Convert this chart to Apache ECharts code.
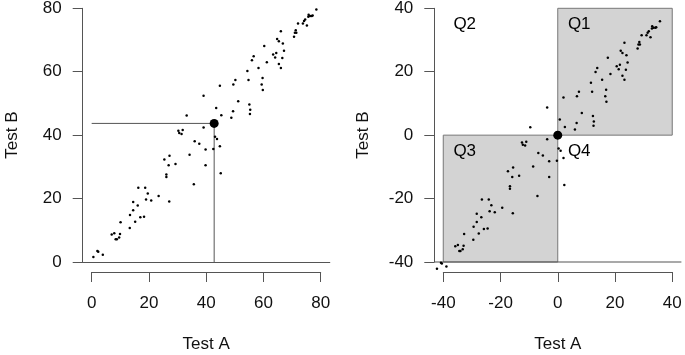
<!DOCTYPE html>
<html>
<head>
<meta charset="utf-8">
<script src="https://cdn.jsdelivr.net/npm/echarts@6/dist/echarts.min.js"></script>
<style>
  html, body { margin: 0; background: #fff; }
  #chart { width: 685px; height: 355px; }
</style>
</head>
<body>
<div id="chart"></div>
<script>
// scores
const testA = [0.6, 2.0, 2.3, 3.9, 7.0, 7.9, 9.9, 8.4, 8.8, 9.6,
  13.3, 10.1, 15.2, 17.0, 18.3, 13.4, 14.5, 16.1, 14.5, 19.0,
  20.8, 27.1, 23.4, 19.6, 16.3, 18.7, 35.7, 26.1, 26.1, 45.1,
  29.3, 26.9, 39.8, 25.4, 27.2, 34.2, 39.8, 42.5, 44.8, 37.6,
  36.0, 43.8, 43.1, 30.3, 31.8, 30.6, 31.4, 39.1, 33.2, 39.1,
  43.5, 45.3, 48.8, 49.4, 51.2, 55.1, 55.4, 55.3, 44.8, 49.5,
  59.4, 59.8, 50.2, 54.8, 59.7, 54.4, 58.3, 65.4, 66.1, 61.2,
  56.0, 56.6, 64.1, 66.6, 63.4, 64.5, 67.2, 60.3, 66.8, 65.4,
  64.8, 70.7, 71.0, 71.5, 66.1, 71.3, 75.2, 72.1, 73.8, 74.2,
  74.6, 75.7, 76.3, 76.9, 77.2, 75.8, 78.5]
const testB = [1.6, 3.5, 3.2, 2.3, 8.7, 9.1, 8.8, 7.2, 7.2, 7.7,
  10.7, 12.5, 12.7, 14.1, 14.3, 14.8, 16.3, 17.8, 18.9, 19.7,
  19.4, 19.1, 20.8, 21.6, 23.4, 23.4, 24.5, 26.8, 27.6, 28.0,
  30.9, 30.5, 30.5, 32.3, 33.5, 33.8, 35.5, 35.6, 36.5, 37.3,
  38.1, 38.8, 39.5, 41.4, 41.6, 40.7, 40.4, 42.4, 46.2, 52.4,
  48.6, 46.3, 45.5, 47.5, 50.7, 49.7, 48.0, 46.7, 55.6, 56.0,
  56.0, 54.2, 57.4, 57.4, 58.0, 60.2, 61.2, 62.4, 61.2, 63.0,
  63.6, 64.9, 64.5, 64.3, 65.4, 65.9, 66.6, 68.1, 68.9, 69.6,
  70.3, 71.0, 72.3, 72.3, 72.8, 73.1, 74.6, 75.2, 75.2, 76.0,
  76.5, 77.3, 77.6, 77.6, 77.7, 78.0, 79.6]

// the marked point (means of both tests)
const centre = [42.8, 43.7]

// quadrant boxes and labels on the centred panel
const shadedBoxes = [[[0, 0], [40, 40]], [[-40, -40], [0, 0]]]
const quadNames = ['Q1', 'Q2', 'Q3', 'Q4']
const quadSpots = [[7.5, 35], [-32.5, 35], [-32.5, -5], [7.5, -5]]

const rawRange = [0, 80]
const centredRange = [-40, 40]
const tickStep = 20

const rawPts = testA.map((a, i) => [a, testB[i]])
const centredPts = testA.map((a, i) => [a - centre[0], testB[i] - centre[1]])

const font = 'Liberation Sans, Arial, sans-serif'
const ink = '#111'
const lineCol = '#555'
const pad = (r) => (r[1] - r[0]) * 0.04   // R's 4% axis padding

const chart = echarts.init(document.getElementById('chart'))

function frameAxis(grid, range, name, isX) {
  return {
    gridIndex: grid, type: 'value', min: range[0], max: range[1], interval: tickStep,
    position: isX ? 'bottom' : 'left',
    offset: isX ? 10 : 9,
    name: name, nameLocation: 'middle', nameGap: isX ? 64 : 62,
    nameTextStyle: { fontFamily: font, fontSize: 17, color: ink },
    axisLine: { show: true, onZero: false, lineStyle: { color: lineCol, width: 1 } },
    axisTick: { show: true, length: 10, lineStyle: { color: lineCol } },
    axisLabel: { margin: isX ? 23 : 21, fontFamily: font, fontSize: 17, color: ink },
    splitLine: { show: false }
  }
}
function plotAxis(grid, range) {
  return { gridIndex: grid, type: 'value', min: range[0] - pad(range), max: range[1] + pad(range), show: false }
}
// left plot region: its x axis line sits on y = 0, drawing the rule across the panel
function ruleXAxis(grid, range) {
  return Object.assign(plotAxis(grid, range), {
    show: true,
    axisLine: { show: true, onZero: true, lineStyle: { color: lineCol, width: 1 } },
    axisTick: { show: false }, axisLabel: { show: false }, splitLine: { show: false }
  })
}
const dot = { color: '#000', opacity: 1 }
const box = (l, t, w, h) => ({ left: l, top: t, width: w, height: h, containLabel: false, outerBoundsMode: 'none' })

// rule across the centred panel at its lower limit, as a hair-thin band
const lo = centredRange[0]
const ruleBand = [[{ coord: [lo - pad(centredRange), lo - 0.16] }, { coord: [centredRange[1] + pad(centredRange), lo + 0.16] }]]

const option = {
  animation: false,
  grid: [
    box(82.5, -1.85, 247.3, 274),
    box(91.7, 8.3, 229, 253.7),
    box(434.1, -1.85, 247.3, 274),
    box(443.3, 8.3, 229, 253.7)
  ],
  xAxis: [
    ruleXAxis(0, rawRange), frameAxis(1, rawRange, 'Test A', true),
    plotAxis(2, centredRange), frameAxis(3, centredRange, 'Test A', true)
  ],
  yAxis: [
    plotAxis(0, rawRange), frameAxis(1, rawRange, 'Test B', false),
    plotAxis(2, centredRange), frameAxis(3, centredRange, 'Test B', false)
  ],
  series: [
    // left panel: guide lines to the marked point
    {
      type: 'line', xAxisIndex: 0, yAxisIndex: 0, silent: true, symbol: 'none', z: 2,
      lineStyle: { color: lineCol, width: 1 },
      data: [[rawRange[0], centre[1]], centre, [centre[0], rawRange[0]]]
    },
    {
      type: 'scatter', xAxisIndex: 0, yAxisIndex: 0, silent: true, z: 3,
      symbolSize: 2.5, itemStyle: dot, data: rawPts
    },
    {
      type: 'scatter', xAxisIndex: 0, yAxisIndex: 0, silent: true, z: 4,
      symbolSize: 9, itemStyle: dot, data: [centre]
    },
    // right panel: shaded quadrants
    {
      type: 'scatter', xAxisIndex: 2, yAxisIndex: 2, silent: true, z: 1, data: [[0, 0]],
      symbolSize: 0,
      markArea: {
        silent: true,
        itemStyle: { color: '#d3d3d3', opacity: 1, borderColor: '#777', borderWidth: 1 },
        data: shadedBoxes.map(b => [{ coord: b[0] }, { coord: b[1] }])
      }
    },
    {
      type: 'scatter', xAxisIndex: 2, yAxisIndex: 2, silent: true, z: 2, data: [[0, 0]],
      symbolSize: 0,
      markArea: {
        silent: true,
        itemStyle: { color: lineCol, opacity: 1, borderWidth: 0 },
        data: ruleBand
      }
    },
    {
      type: 'scatter', xAxisIndex: 2, yAxisIndex: 2, silent: true, z: 3, clip: false,
      symbolSize: 2.5, itemStyle: dot, data: centredPts
    },
    {
      type: 'scatter', xAxisIndex: 2, yAxisIndex: 2, silent: true, z: 4,
      symbolSize: 9, itemStyle: dot, data: [[0, 0]]
    },
    {
      type: 'scatter', xAxisIndex: 2, yAxisIndex: 2, silent: true, z: 5,
      symbolSize: 0, itemStyle: { opacity: 1 },
      label: {
        show: true, position: 'inside', formatter: '{b}', fontFamily: font, fontSize: 17,
        color: '#000', textBorderWidth: 0
      },
      data: quadNames.map((n, i) => ({ name: n, value: quadSpots[i] }))
    }
  ]
}

chart.setOption(option)
</script>
</body>
</html>
